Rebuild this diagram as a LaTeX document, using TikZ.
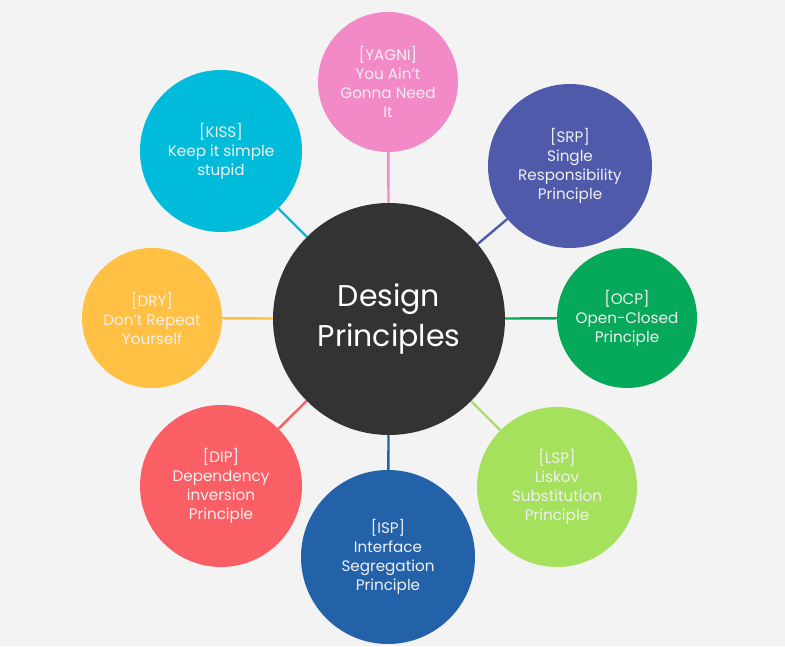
\documentclass[tikz,border=0pt]{standalone}
\usepackage{fontspec}
\setmainfont{Poppins}
\usepackage{tikz}
\usetikzlibrary{positioning}
\definecolor{pageBg}{RGB}{243, 243, 243}
\definecolor{coreC}{RGB}{51, 51, 51}
\definecolor{yagniC}{RGB}{243, 138, 200}
\definecolor{srpC}{RGB}{79, 91, 170}
\definecolor{ocpC}{RGB}{6, 168, 90}
\definecolor{lspC}{RGB}{166, 225, 93}
\definecolor{ispC}{RGB}{35, 97, 168}
\definecolor{dipC}{RGB}{250, 95, 102}
\definecolor{dryC}{RGB}{255, 192, 67}
\definecolor{kissC}{RGB}{0, 188, 218}

\begin{document}
\begin{tikzpicture}[x=1pt, y=1pt,
    principle/.style={circle, inner sep=0pt, text=white!94!black, align=center,
      font=\fontsize{15.2}{19}\selectfont},
    spoke/.style={line width=2.4pt}]
  % page
  \fill[pageBg] (0,0) rectangle (785,646);
  \useasboundingbox (0,0) rectangle (785,646);
  % hub
  \node[circle, fill=coreC, minimum size=232pt, inner sep=0pt, text=white, align=center,
    font=\fontsize{30}{40}\selectfont] (core) at (389,327) {Design\\Principles};
  % the eight principles
  \node[principle, fill=yagniC, minimum size=140pt] (yagni) at (388,564) {[YAGNI]\\You Ain't\\Gonna Need\\It};
  \node[principle, fill=srpC, minimum size=164pt] (srp) at (570,480) {[SRP]\\Single\\Responsibility\\Principle};
  \node[principle, fill=ocpC, minimum size=140pt] (ocp) at (627,328) {[OCP]\\Open-Closed\\Principle};
  \node[principle, fill=lspC, minimum size=160pt] (lsp) at (557,159) {[LSP]\\Liskov\\Substitution\\Principle};
  \node[principle, fill=ispC, minimum size=174pt] (isp) at (388,89) {[ISP]\\Interface\\Segregation\\Principle};
  \node[principle, fill=dipC, minimum size=162pt] (dip) at (221,160) {[DIP]\\Dependency\\inversion\\Principle};
  \node[principle, fill=dryC, minimum size=140pt] (dry) at (152,328) {[DRY]\\Don't Repeat\\Yourself};
  \node[principle, fill=kissC, minimum size=162pt] (kiss) at (221,495) {[KISS]\\Keep it simple\\stupid};
  % spokes
  \draw[spoke, yagniC] (core) -- (yagni);
  \draw[spoke, srpC] (core) -- (srp);
  \draw[spoke, ocpC] (core) -- (ocp);
  \draw[spoke, lspC] (core) -- (lsp);
  \draw[spoke, ispC] (core) -- (isp);
  \draw[spoke, dipC] (core) -- (dip);
  \draw[spoke, dryC] (core) -- (dry);
  \draw[spoke, kissC] (core) -- (kiss);
\end{tikzpicture}
\end{document}
